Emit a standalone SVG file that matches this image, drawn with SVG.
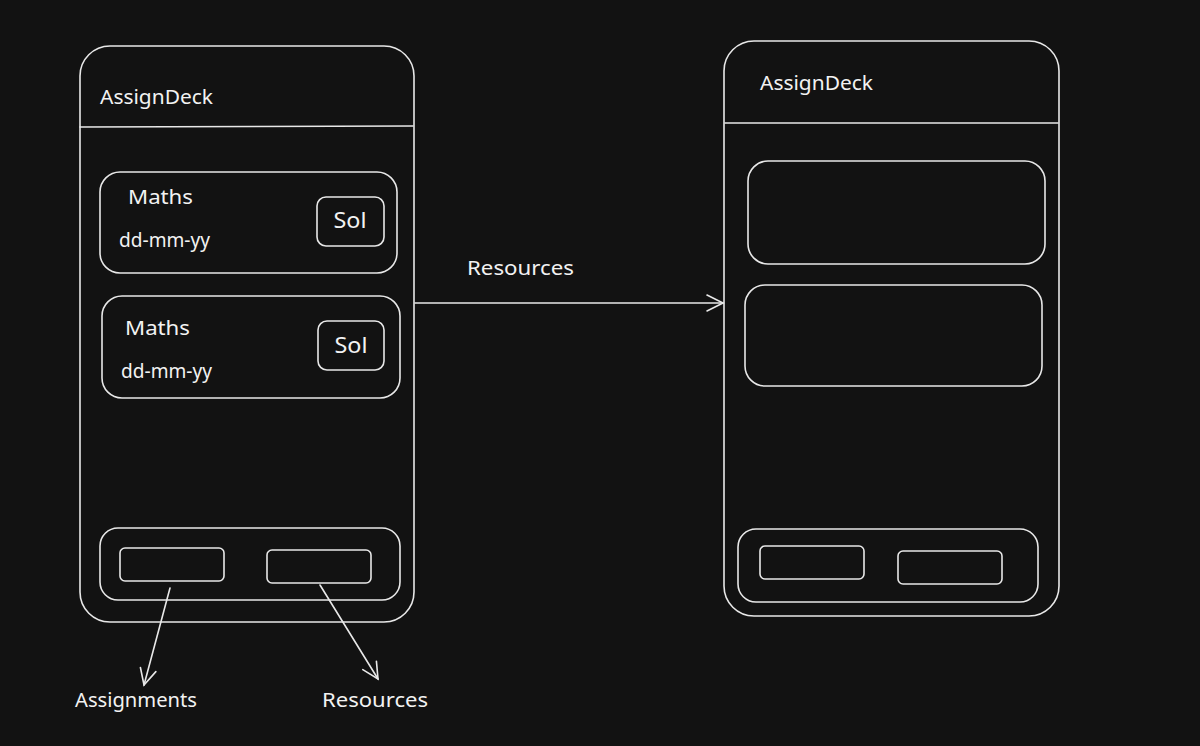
<svg xmlns="http://www.w3.org/2000/svg" width="1200" height="746" viewBox="0 0 1200 746">
<defs>
<style>
.s{fill:none;stroke:#e8e8e8;stroke-width:1.6;stroke-linecap:round;stroke-linejoin:round}
.t{fill:#f2f2f2;font-family:"Noto Sans","Liberation Sans",sans-serif;font-size:19px}
.b{font-size:21px}
</style>
<marker id="ah" viewBox="0 0 20 20" refX="18" refY="10" markerWidth="20" markerHeight="20" markerUnits="userSpaceOnUse" orient="auto">
<path d="M2,2 L18,10 L2,18" fill="none" stroke="#e8e8e8" stroke-width="1.6" stroke-linecap="round"/>
</marker>
</defs>
<rect width="1200" height="746" fill="#121212"/>
<g id="phone-left">
<rect class="s" x="80" y="46" width="334" height="576" rx="30"/>
<line class="s" x1="80" y1="127" x2="413" y2="126"/>
<text class="t" x="100" y="104" textLength="113" lengthAdjust="spacingAndGlyphs">AssignDeck</text>
</g>
<g id="card-left-1">
<rect class="s" x="100" y="172" width="297" height="101" rx="20"/>
<text class="t" x="128" y="204" textLength="65" lengthAdjust="spacingAndGlyphs">Maths</text>
<text class="t" x="119" y="247" textLength="91" lengthAdjust="spacingAndGlyphs">dd-mm-yy</text>
<rect class="s" x="317" y="197" width="67" height="49" rx="9"/>
<text class="t b" x="350" y="228" text-anchor="middle" textLength="33" lengthAdjust="spacingAndGlyphs">Sol</text>
</g>
<g id="card-left-2">
<rect class="s" x="102" y="296" width="298" height="102" rx="20"/>
<text class="t" x="125" y="335" textLength="65" lengthAdjust="spacingAndGlyphs">Maths</text>
<text class="t" x="121" y="378" textLength="91" lengthAdjust="spacingAndGlyphs">dd-mm-yy</text>
<rect class="s" x="318" y="321" width="66" height="49" rx="9"/>
<text class="t b" x="351" y="353" text-anchor="middle" textLength="33" lengthAdjust="spacingAndGlyphs">Sol</text>
</g>
<g id="nav-left">
<rect class="s" x="100" y="528" width="300" height="72" rx="18"/>
<rect class="s" x="120" y="548" width="104" height="33" rx="5"/>
<rect class="s" x="267" y="550" width="104" height="33" rx="5"/>
</g>
<g id="phone-right">
<rect class="s" x="724" y="41" width="335" height="575" rx="30"/>
<line class="s" x1="725" y1="123" x2="1058" y2="123"/>
<text class="t" x="760" y="90" textLength="113" lengthAdjust="spacingAndGlyphs">AssignDeck</text>
</g>
<g id="card-right-1">
<rect class="s" x="748" y="161" width="297" height="103" rx="20"/>
</g>
<g id="card-right-2">
<rect class="s" x="745" y="285" width="297" height="101" rx="20"/>
</g>
<g id="nav-right">
<rect class="s" x="738" y="529" width="300" height="73" rx="18"/>
<rect class="s" x="760" y="546" width="104" height="33" rx="5"/>
<rect class="s" x="898" y="551" width="104" height="33" rx="5"/>
</g>
<g id="labels">
<text class="t" x="75" y="707" textLength="122" lengthAdjust="spacingAndGlyphs">Assignments</text>
<text class="t" x="322" y="707" textLength="106" lengthAdjust="spacingAndGlyphs">Resources</text>
<text class="t" x="467" y="275" textLength="107" lengthAdjust="spacingAndGlyphs">Resources</text>
</g>
<g id="connectors">
<line class="s" x1="415" y1="303" x2="723" y2="303" marker-end="url(#ah)"/>
<line class="s" x1="170" y1="588" x2="144" y2="685" marker-end="url(#ah)"/>
<line class="s" x1="320" y1="585" x2="378" y2="679" marker-end="url(#ah)"/>
</g>
</svg>
